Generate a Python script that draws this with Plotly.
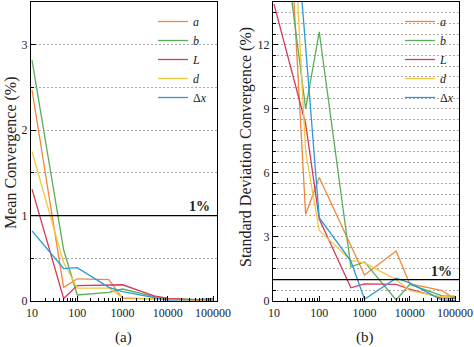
import plotly.graph_objects as go

# ---- data ----
samples = [10, 50, 100, 500, 1000, 5000, 10000, 50000, 100000]
series_names = ["<i>a</i>", "<i>b</i>", "<i>L</i>", "<i>d</i>", "Δ<i>x</i>"]
colors = ["#F0883A", "#5AAE5A", "#D43A5C", "#F2C740", "#2A9AD8"]

mean_a = [2.47, 0.16, 0.26, 0.25, 0.03, 0.02, 0.02, 0.01, 0.01]
mean_b = [2.82, 0.60, 0.07, 0.10, 0.14, 0.05, 0.03, 0.01, 0.01]
mean_L = [1.31, 0.03, 0.18, 0.19, 0.19, 0.06, 0.03, 0.01, 0.01]
mean_d = [1.75, 0.45, 0.15, 0.15, 0.04, 0.02, 0.02, 0.01, 0.01]
mean_dx = [0.82, 0.38, 0.39, 0.16, 0.11, 0.04, 0.01, 0.02, 0.03]

std_a = [31.0, 4.06, 5.78, 2.6, 1.22, 2.34, 0.8, 0.5, 0.1]
std_b = [20.6, 9.0, 12.6, 1.6, 1.83, 0.05, 0.78, 0.25, 0.2]
std_L = [13.9, 8.3, 3.84, 0.62, 0.8, 0.78, 0.55, 0.15, 0.12]
std_d = [35.0, 7.0, 3.3, 1.9, 1.78, 1.0, 0.48, 0.2, 0.25]
std_dx = [30.5, 11.9, 3.9, 1.87, 0.08, 1.07, 0.85, 0.05, 0.02]

x_tickvals = [10, 100, 1000, 10000, 100000]
x_ticktext = ["10", "100", "1000", "10000", "100000"]
mean_ticks = [0, 1, 2, 3]
std_ticks = [0, 3, 6, 9, 12]
threshold = 1.0

mean_series = [mean_a, mean_b, mean_L, mean_d, mean_dx]
std_series = [std_a, std_b, std_L, std_d, std_dx]

FONT = "Liberation Serif"
W, H = 474, 347
GRID = "#AAAAAA"
GDASH = "2px,2px"

fig = go.Figure()
for name, col, ys in zip(series_names, colors, mean_series):
    fig.add_trace(go.Scatter(x=samples, y=ys, mode="lines", name=name,
                             line=dict(color=col, width=1.3),
                             xaxis="x", yaxis="y", legend="legend"))
for name, col, ys in zip(series_names, colors, std_series):
    fig.add_trace(go.Scatter(x=samples, y=ys, mode="lines", name=name,
                             line=dict(color=col, width=1.3),
                             xaxis="x2", yaxis="y2", legend="legend2"))

minor_x = [m * 10 ** e for e in range(1, 5) for m in range(2, 10)]

def xax(domain, anchor):
    return dict(domain=domain, type="log", range=[0.978, 5.088], anchor=anchor,
                tickvals=x_tickvals, ticktext=x_ticktext, automargin=False,
                ticks="inside", ticklen=5, tickcolor="black",
                minor=dict(tickvals=minor_x, ticks="inside", ticklen=3, tickcolor="black"),
                showline=True, linecolor="black", linewidth=1.2, mirror=True,
                showgrid=False, zeroline=False,
                tickfont=dict(family=FONT, size=12, color="#222"))

def yax(domain, rng, ticks, anchor):
    return dict(domain=domain, range=rng, tickvals=ticks, anchor=anchor, automargin=False,
                ticks="inside", ticklen=5, tickcolor="black",
                showline=True, linecolor="black", linewidth=1.2, mirror=True,
                showgrid=True, gridcolor=GRID, griddash=GDASH, gridwidth=1,
                minor=dict(dtick=0.5, showgrid=True, gridcolor=GRID, griddash=GDASH,
                           gridwidth=1, ticks="inside", ticklen=3, tickcolor="black"),
                zeroline=False,
                tickfont=dict(family=FONT, size=12, color="#222"))

ydom = [(H - 301) / H, (H - 2) / H]
fig.update_layout(
    width=W, height=H, margin=dict(l=0, r=0, t=0, b=0, autoexpand=False),
    paper_bgcolor="white", plot_bgcolor="white",
    font=dict(family=FONT, size=12, color="#222"),
    xaxis=xax([31 / W, 217 / W], "y"),
    yaxis=yax(ydom, [0, 3.5], mean_ticks, "x"),
    xaxis2=xax([273 / W, 459 / W], "y2"),
    yaxis2=yax(ydom, [0, 14], std_ticks, "x2"),
    legend=dict(x=153 / W, y=1 - 7 / H, xanchor="left", yanchor="top",
                bgcolor="rgba(0,0,0,0)", font=dict(family=FONT, size=12, color="#222")),
    legend2=dict(x=400 / W, y=1 - 7 / H, xanchor="left", yanchor="top",
                 bgcolor="rgba(0,0,0,0)", font=dict(family=FONT, size=12, color="#222")),
    showlegend=True,
)

fig.add_shape(type="line", xref="x domain", yref="y", x0=0, x1=1, y0=threshold, y1=threshold,
              line=dict(color="black", width=1.3))
fig.add_shape(type="line", xref="x2 domain", yref="y2", x0=0, x1=1, y0=threshold, y1=threshold,
              line=dict(color="black", width=1.3))

anns = [
    dict(text="<b>1%</b>", x=212 / W, y=(H - 206.5) / H, xanchor="right", yanchor="middle", size=14),
    dict(text="<b>1%</b>", x=454 / W, y=(H - 271) / H, xanchor="right", yanchor="middle", size=14),
    dict(text="(a)", x=123 / W, y=(H - 337) / H, xanchor="center", yanchor="middle", size=15),
    dict(text="(b)", x=365 / W, y=(H - 337) / H, xanchor="center", yanchor="middle", size=15),
]
for a in anns:
    fig.add_annotation(xref="paper", yref="paper", x=a["x"], y=a["y"], text=a["text"],
                       xanchor=a["xanchor"], yanchor=a["yanchor"], showarrow=False,
                       font=dict(family=FONT, size=a["size"], color="#222"))
fig.add_annotation(xref="paper", yref="paper", x=11 / W, y=(H - 153) / H,
                   text="Mean Convergence (%)", textangle=-90, showarrow=False,
                   xanchor="center", yanchor="middle",
                   font=dict(family=FONT, size=16, color="#222"))
fig.add_annotation(xref="paper", yref="paper", x=246 / W, y=(H - 147) / H,
                   text="Standard Deviation Convergence (%)", textangle=-90, showarrow=False,
                   xanchor="center", yanchor="middle",
                   font=dict(family=FONT, size=16, color="#222"))

fig.write_html("out.html")
